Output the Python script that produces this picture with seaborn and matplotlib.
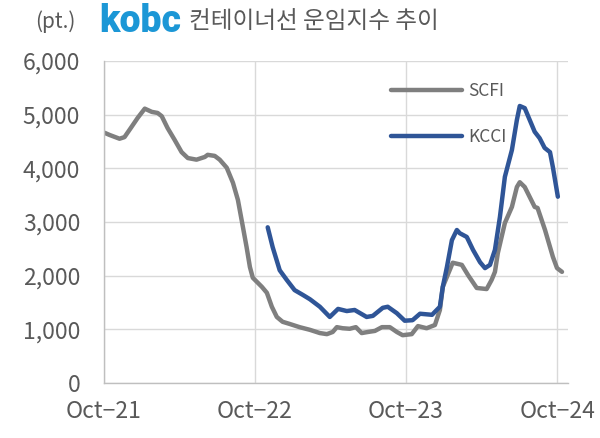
import pandas as pd
import seaborn as sns
import matplotlib.pyplot as plt
import matplotlib.dates as mdates

# SCFI (weekly-ish points)
scfi_dates = ['2021-10-03', '2021-10-15', '2021-11-08', '2021-11-20', '2021-12-07', '2021-12-22',
              '2022-01-08', '2022-01-25', '2022-02-08', '2022-02-18', '2022-03-04', '2022-03-21',
              '2022-04-07', '2022-04-22', '2022-05-13', '2022-06-02', '2022-06-09', '2022-06-26',
              '2022-07-08', '2022-07-25', '2022-08-09', '2022-08-21', '2022-09-02', '2022-09-11',
              '2022-09-19', '2022-09-26', '2022-10-18', '2022-10-30', '2022-11-11', '2022-11-23',
              '2022-12-07', '2022-12-24', '2023-01-17', '2023-02-11', '2023-03-07', '2023-03-24',
              '2023-04-07', '2023-04-17', '2023-05-01', '2023-05-18', '2023-06-02', '2023-06-16',
              '2023-07-01', '2023-07-18', '2023-08-04', '2023-08-23', '2023-09-09', '2023-09-23',
              '2023-10-15', '2023-10-30', '2023-11-20', '2023-12-10', '2023-12-22', '2023-12-29',
              '2024-01-22', '2024-02-13', '2024-02-28', '2024-03-20', '2024-04-13', '2024-04-25',
              '2024-05-03', '2024-05-10', '2024-05-27', '2024-06-13', '2024-06-25', '2024-07-02',
              '2024-07-14', '2024-08-07', '2024-08-14', '2024-09-01', '2024-09-20', '2024-09-30',
              '2024-10-12']
scfi_values = [4660, 4620, 4550, 4580, 4770, 4940,
               5110, 5050, 5030, 4970, 4750, 4530,
               4300, 4190, 4160, 4210, 4250, 4230,
               4160, 4010, 3730, 3410, 2910, 2530,
               2160, 1960, 1790, 1680, 1420, 1230,
               1140, 1100, 1040, 990, 930, 910,
               950, 1040, 1020, 1010, 1040, 930,
               950, 970, 1040, 1040, 950, 890,
               910, 1060, 1020, 1080, 1360, 1790,
               2240, 2200, 2010, 1770, 1750, 1920,
               2070, 2420, 2980, 3280, 3650, 3740,
               3650, 3280, 3260, 2850, 2350, 2140,
               2070]

# KCCI (starts Nov 2022)
kcci_dates = ['2022-11-01', '2022-11-13', '2022-11-30', '2022-12-17', '2023-01-05', '2023-01-25',
              '2023-02-11', '2023-03-07', '2023-03-31', '2023-04-20', '2023-05-11', '2023-05-30',
              '2023-06-28', '2023-07-13', '2023-08-06', '2023-08-18', '2023-09-09', '2023-09-28',
              '2023-10-17', '2023-11-04', '2023-12-03', '2023-12-22', '2023-12-29', '2024-01-08',
              '2024-01-20', '2024-02-01', '2024-02-08', '2024-02-25', '2024-03-11', '2024-03-28',
              '2024-04-09', '2024-04-21', '2024-05-03', '2024-05-15', '2024-05-27', '2024-06-13',
              '2024-06-25', '2024-07-02', '2024-07-14', '2024-07-26', '2024-08-07', '2024-08-19',
              '2024-08-31', '2024-09-13', '2024-09-20', '2024-10-02']
kcci_values = [2900, 2530, 2100, 1920, 1730, 1640,
               1560, 1420, 1230, 1380, 1340, 1360,
               1230, 1250, 1400, 1420, 1300, 1160,
               1170, 1290, 1270, 1420, 1790, 2160,
               2660, 2850, 2790, 2720, 2480, 2250,
               2140, 2200, 2480, 3090, 3840, 4340,
               4900, 5160, 5120, 4900, 4680, 4560,
               4380, 4300, 4020, 3470]

x_ticks = ['2021-10-01', '2022-10-01', '2023-10-01', '2024-10-01']
x_labels = ['Oct\u221221', 'Oct\u221222', 'Oct\u221223', 'Oct\u221224']
y_ticks = [0, 1000, 2000, 3000, 4000, 5000, 6000]

df = pd.concat([
    pd.DataFrame({'date': pd.to_datetime(scfi_dates), 'value': scfi_values, 'index': 'SCFI'}),
    pd.DataFrame({'date': pd.to_datetime(kcci_dates), 'value': kcci_values, 'index': 'KCCI'}),
])

sns.set_style("white")
plt.rcParams['font.family'] = ['Noto Sans CJK KR', 'DejaVu Sans']
txt = '#595959'

fig = plt.figure(figsize=(6, 4.38), dpi=100)
ax = fig.add_axes([0.173, 0.1256, 0.774, 0.7354])

sns.lineplot(data=df, x='date', y='value', hue='index',
             palette={'SCFI': '#7f7f7f', 'KCCI': '#2f5597'},
             linewidth=3.2, ax=ax, solid_capstyle='round', solid_joinstyle='round')

ax.set_xlim(pd.Timestamp('2021-10-01'), pd.Timestamp('2024-10-27'))
ax.set_ylim(0, 6000)
ax.set_xticks(pd.to_datetime(x_ticks))
ax.set_xticklabels(x_labels)
ax.set_yticks(y_ticks)
ax.set_yticklabels([f'{v:,}' for v in y_ticks])
ax.tick_params(axis='both', length=0, labelsize=16.5, colors=txt)
ax.tick_params(axis='y', pad=17)
ax.tick_params(axis='x', pad=12)
ax.grid(True, color='#d9d9d9', linewidth=1)
ax.set_xlabel('')
ax.set_ylabel('')
for s in ['top', 'right']:
    ax.spines[s].set_visible(False)
for s in ['left', 'bottom']:
    ax.spines[s].set_color('#bfbfbf')
    ax.spines[s].set_linewidth(1)

handles, labels = ax.get_legend_handles_labels()
leg = ax.legend(handles, labels, loc='upper left', bbox_to_anchor=(0.6, 0.96),
                frameon=False, fontsize=12.5, handlelength=4.1, handletextpad=0.35,
                labelspacing=1.6, borderpad=0)
for t in leg.get_texts():
    t.set_color(txt)

# header: unit, logo, title
fig.text(0.058, 0.95, '(pt.)', fontsize=15, color=txt, va='center')
fig.text(0.165, 0.95, 'kobc', fontsize=27, color='#1c97d6', fontweight='heavy',
         va='center', family=['Roboto', 'DejaVu Sans'])
fig.text(0.315, 0.95, '컨테이너선 운임지수 추이', fontsize=17, color=txt, va='center')

fig.savefig('out.png', dpi=100)
